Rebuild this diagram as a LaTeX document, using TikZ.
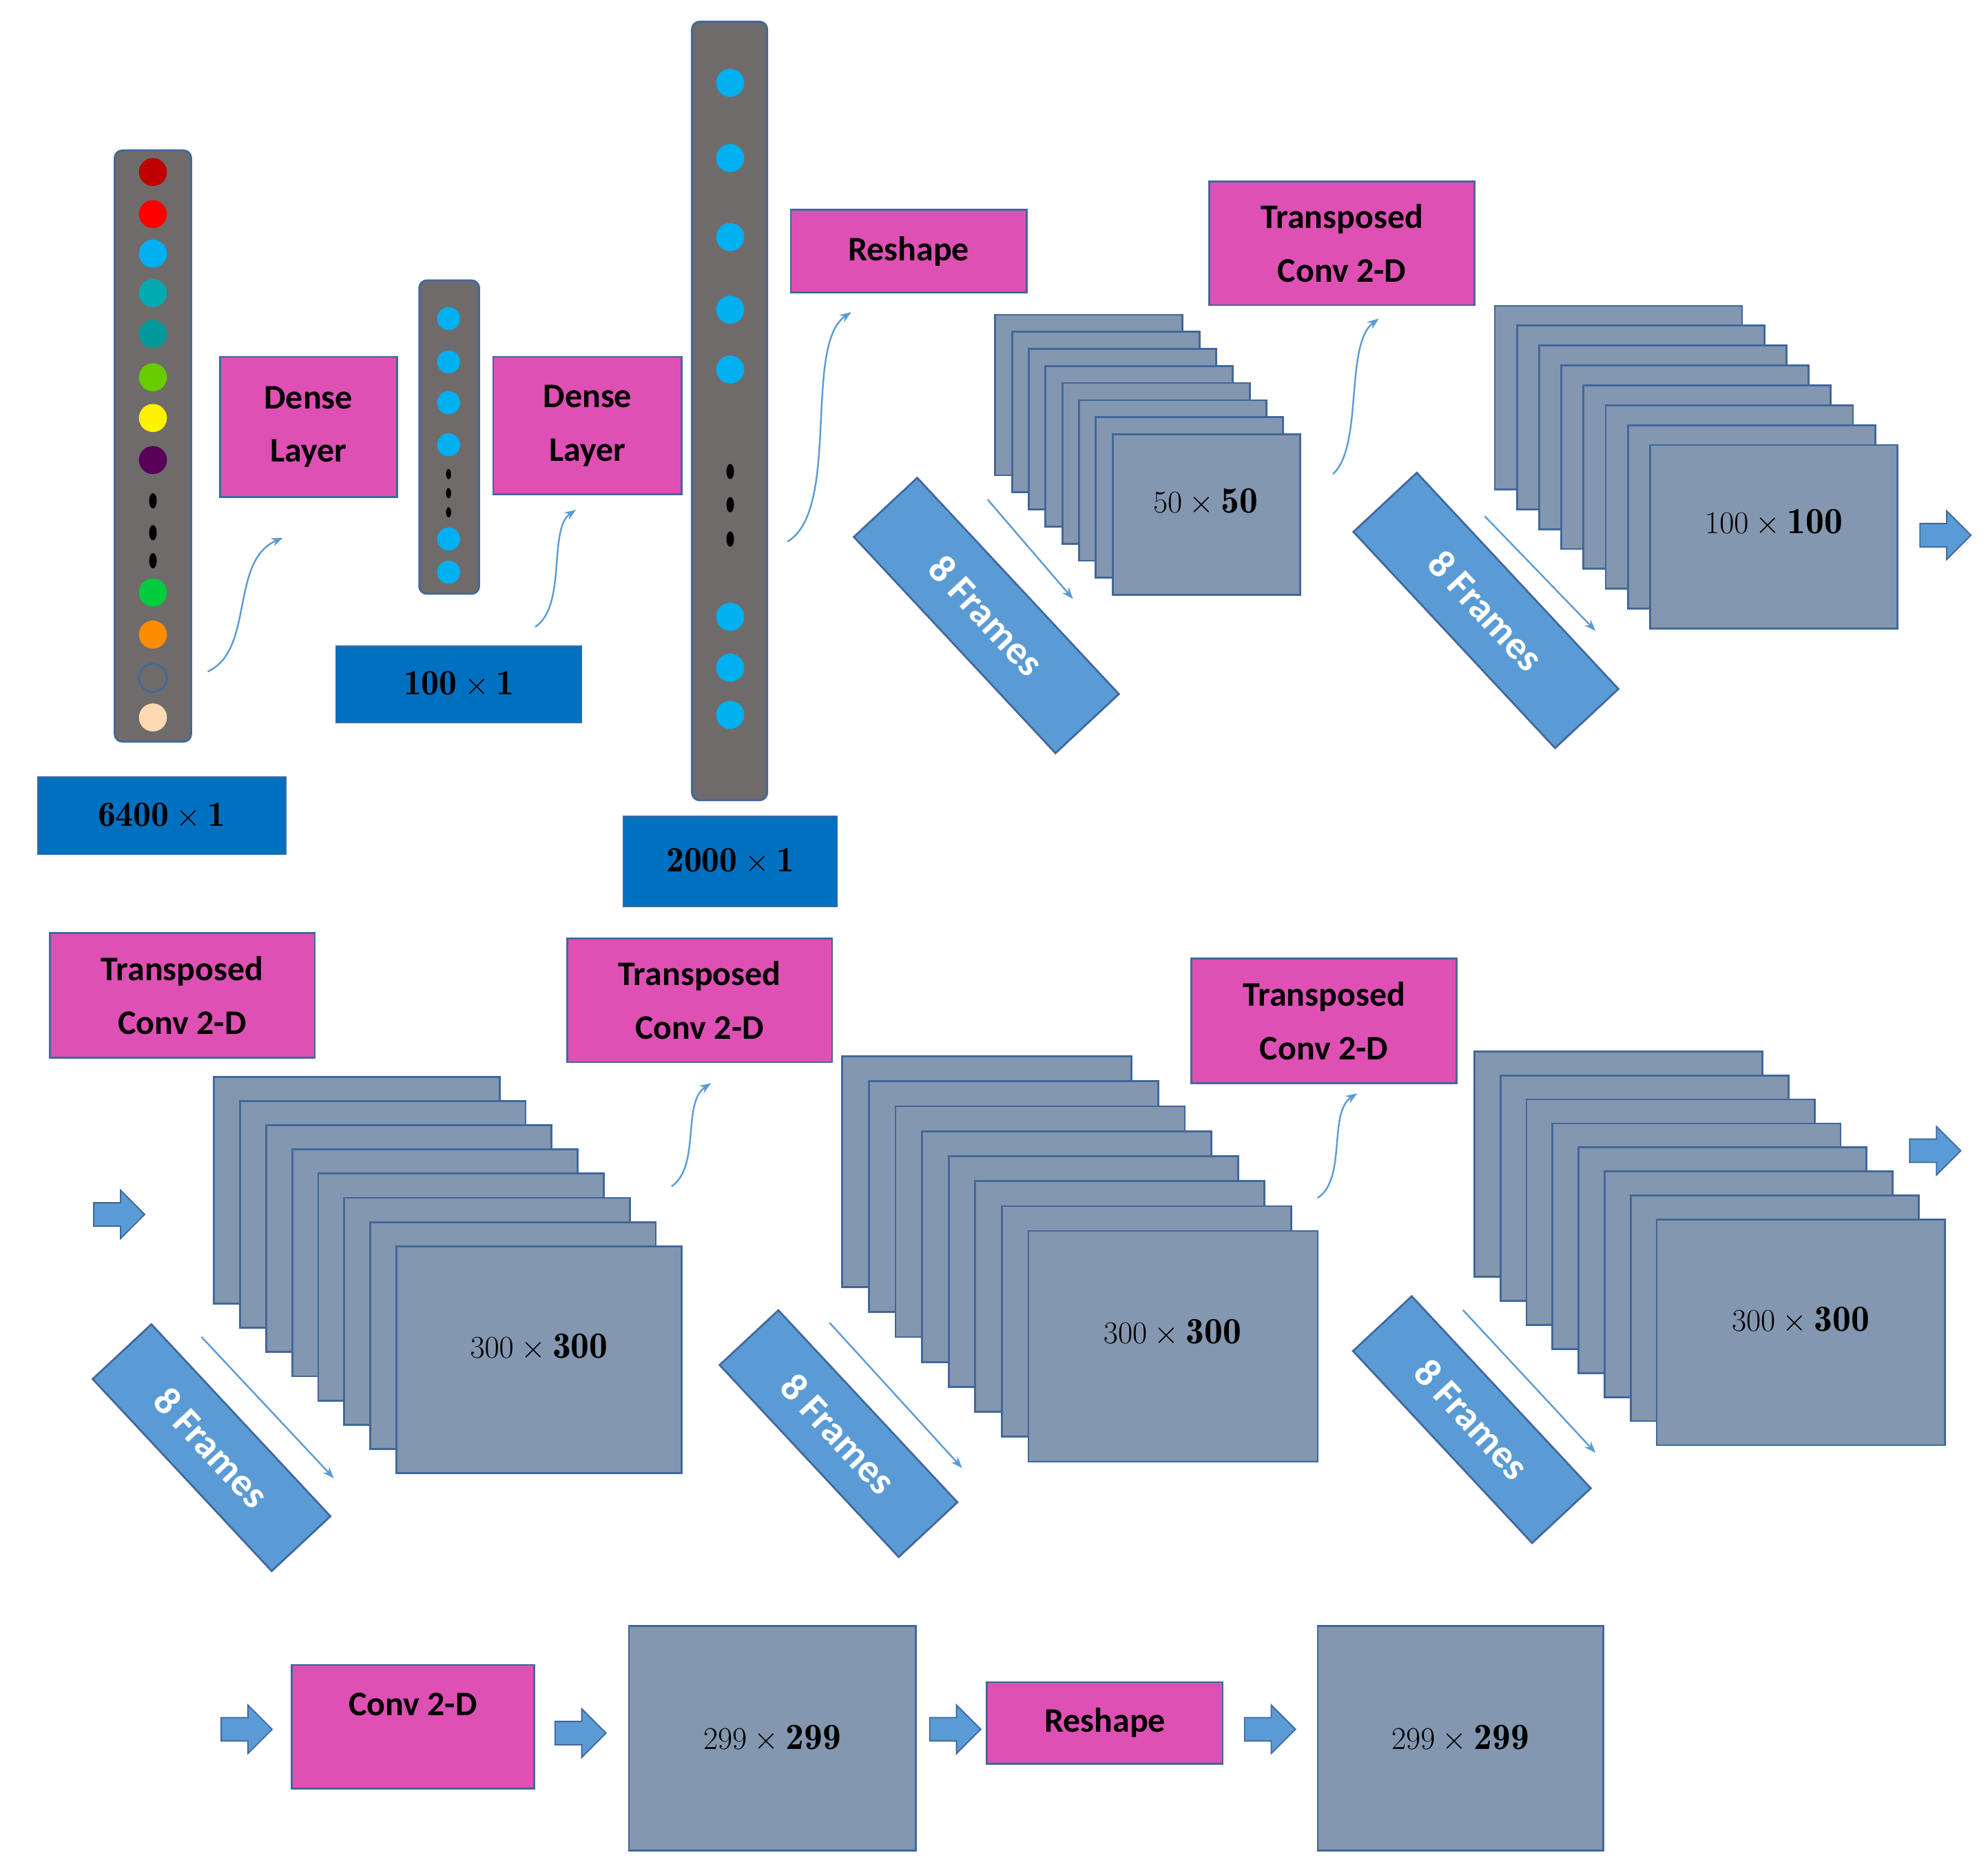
\documentclass[tikz,border=0pt]{standalone}
\usepackage{fontspec}
\newfontfamily\carl{Carlito}
\usetikzlibrary{shapes.arrows,arrows.meta}
\definecolor{pinkc}{HTML}{DF50B5}
\definecolor{bord}{HTML}{41689C}
\definecolor{layer}{HTML}{8497B0}
\definecolor{fr}{HTML}{5B9BD5}
\definecolor{dbl}{HTML}{0070C0}
\definecolor{col}{HTML}{6F6B6B}
\definecolor{cy}{HTML}{00B0F0}
\begin{document}
\begin{tikzpicture}[x=1pt,y=-1pt,
 op/.style={draw=bord,line width=1.5pt,fill=pinkc,align=center,font=\carl\bfseries\fontsize{27}{42}\selectfont},
 dim/.style={draw=bord,line width=1pt,fill=dbl,font=\fontsize{28}{30}\selectfont},
 num/.style={font=\fontsize{29}{32}\selectfont},
 sheet/.style={draw=bord,line width=1.5pt,fill=layer},
 colm/.style={draw=bord,line width=1.5pt,fill=col,rounded corners=6pt},
 frames/.style={draw=bord,line width=1.5pt,fill=fr,minimum width=232pt,minimum height=68pt,text=white,font=\carl\bfseries\fontsize{31}{34}\selectfont,rotate=-47},
 frames2/.style={frames,minimum width=206pt,minimum height=63pt},
 curv/.style={draw=fr,line width=1.3pt,-{Stealth[length=9pt]}},
 thin/.style={draw=fr,line width=1.3pt,-{Stealth[length=9pt]}},
 blk/.style={single arrow,draw=bord,line width=1pt,fill=fr,minimum width=38pt,minimum height=40pt,single arrow head extend=7pt,inner sep=6pt,anchor=center}]
\useasboundingbox (0,0) rectangle (1560,1471);
\fill[white] (0,0) rectangle (1560,1471);
% column 1
\draw[colm] (90,118) rectangle (150,582);
\foreach \y/\c in {135/{black!25!red},168/red,199/cy,230/{cyan!60!green},262/{teal!80!cyan},296/{green!50!yellow!80!black},328/yellow,361/violet!70!black,465/{green!70!cyan!80!black},498/orange!90!yellow}
 \fill[\c] (120,\y) circle (11);
\foreach \y in {393,418,440} \fill (120,\y) ellipse (3 and 6);
\draw[bord,line width=1.5pt] (120,532) circle (11);
\fill[orange!30!white] (120,563) circle (11);
\node[dim,minimum width=195pt,minimum height=61pt] (d1) at (127,640) {$\mathbf{6400\times1}$};
\node[op,minimum width=139pt,minimum height=110pt] (dl1) at (242,335) {Dense\\Layer};
\draw[curv] (163,527) .. controls (200,510) and (180,440) .. (222,422);
% column 2
\draw[colm] (329,220) rectangle (376,466);
\foreach \y in {250,284,316,349,423,449} \fill[cy] (352,\y) circle (9);
\foreach \y in {372,387,402} \fill (352,\y) ellipse (2 and 4);
\node[dim,minimum width=193pt,minimum height=60pt] (d2) at (360,537) {$\mathbf{100\times1}$};
\node[op,minimum width=148pt,minimum height=108pt] (dl2) at (461,334) {Dense\\Layer};
\draw[curv] (420,492) .. controls (445,475) and (430,415) .. (452,400);
% column 3
\draw[colm] (543,17) rectangle (602,628);
\foreach \y in {65,124,186,243,290,484,524,561} \fill[cy] (573,\y) circle (11);
\foreach \y in {370,396,423} \fill (573,\y) ellipse (3 and 6);
\node[dim,minimum width=168pt,minimum height=71pt] (d3) at (573,676) {$\mathbf{2000\times1}$};
\draw[curv] (618,425) .. controls (660,400) and (630,270) .. (668,245);
\node[op,minimum width=185pt,minimum height=65pt] (rs1) at (713,197) {Reshape};
% stack 1
\foreach \i in {0,...,7} \draw[sheet] ({781+\i*13.15},{247+\i*13.4}) rectangle ++(147,126);
\node[num] (s1) at (946,394) {$50\times\mathbf{50}$};
\node[frames] (f1) at (774,483) {8 Frames};
\draw[thin] (775,392) -- (842,470);
\node[op,minimum width=208pt,minimum height=97pt] (tc1) at (1053,191) {Transposed\\Conv 2-D};
\draw[curv] (1046,372) .. controls (1070,350) and (1055,270) .. (1082,250);
% stack 2
\foreach \i in {0,...,7} \draw[sheet] ({1173+\i*17.4},{240+\i*15.6}) rectangle ++(194,144);
\node[num] (s2) at (1392,410) {$100\times\mathbf{100}$};
\node[frames] (f2) at (1166,479) {8 Frames};
\draw[thin] (1165,405) -- (1252,495);
\node[blk] (a1) at (1522,420) {};
% row 2
\node[op,minimum width=208pt,minimum height=98pt] (tc2) at (143,781) {Transposed\\Conv 2-D};
\node[blk] (a2) at (89,953) {};
\foreach \i in {0,...,7} \draw[sheet] ({168+\i*20.43},{845+\i*19}) rectangle ++(224,178);
\node[num] (s3) at (423,1057) {$300\times\mathbf{300}$};
\node[frames2] (f3) at (166,1136) {8 Frames};
\draw[thin] (158,1049) -- (262,1160);
\node[op,minimum width=208pt,minimum height=97pt] (tc3) at (549,785) {Transposed\\Conv 2-D};
\draw[curv] (527,931) .. controls (550,915) and (535,865) .. (558,850);
\foreach \i in {0,...,7} \draw[sheet] ({661+\i*20.86},{829+\i*19.57}) rectangle ++(227,181);
\node[num] (s4) at (920,1046) {$300\times\mathbf{300}$};
\node[frames2] (f4) at (658,1125) {8 Frames};
\draw[thin] (651,1038) -- (755,1152);
\node[op,minimum width=208pt,minimum height=98pt] (tc4) at (1039,801) {Transposed\\Conv 2-D};
\draw[curv] (1034,940) .. controls (1057,925) and (1042,873) .. (1065,858);
\foreach \i in {0,...,7} \draw[sheet] ({1157+\i*20.43},{825+\i*18.86}) rectangle ++(226,177);
\node[num] (s5) at (1413,1036) {$300\times\mathbf{300}$};
\node[frames2] (f5) at (1155,1114) {8 Frames};
\draw[thin] (1148,1028) -- (1252,1140);
\node[blk] (a3) at (1514,903) {};
% row 3
\node[blk] (a4) at (189,1357) {};
\node[op,minimum width=190pt,minimum height=97pt,text depth=35pt] (cv) at (324,1355) {Conv 2-D};
\node[blk] (a5) at (451,1360) {};
\node[sheet,minimum width=225pt,minimum height=176pt,num] (o1) at (606,1364) {$299\times\mathbf{299}$};
\node[blk] (a6) at (745,1357) {};
\node[op,minimum width=185pt,minimum height=64pt] (rs2) at (867,1352) {Reshape};
\node[blk] (a7) at (992,1357) {};
\node[sheet,minimum width=224pt,minimum height=176pt,num] (o2) at (1146,1364) {$299\times\mathbf{299}$};
\end{tikzpicture}
\end{document}
